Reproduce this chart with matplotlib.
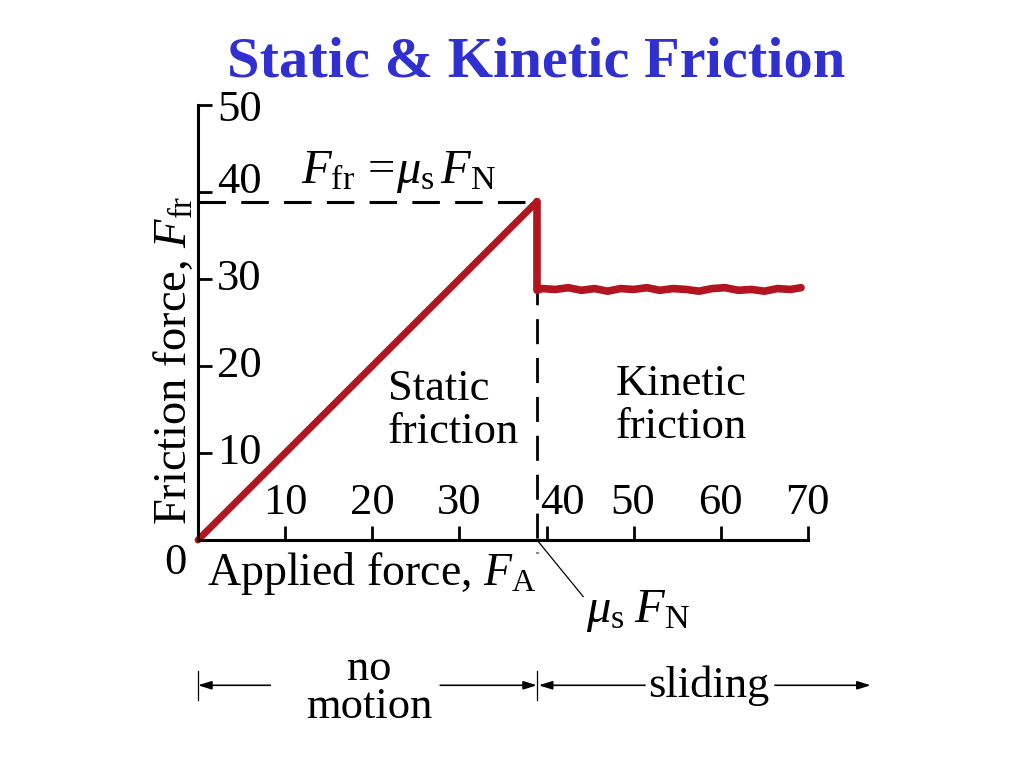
import matplotlib
matplotlib.use("Agg")
import matplotlib.pyplot as plt

plt.rcParams['font.family'] = ['Liberation Serif', 'DejaVu Serif']
plt.rcParams['mathtext.fontset'] = 'custom'
plt.rcParams['mathtext.rm'] = 'Liberation Serif'
plt.rcParams['mathtext.it'] = 'Liberation Serif:italic'

# data
static_x = [0, 38.9]
static_y = [0, 38.9]
kinetic_x = [38.9, 38.9, 39.5, 41, 42.5, 44, 45.5, 47, 48.5, 50, 51.5, 53, 54.5, 56,
             57.5, 59, 60.5, 62, 63.5, 65, 66.5, 68, 69.2]
kinetic_y = [38.9, 28.7, 28.9, 28.8, 29.0, 28.7, 28.9, 28.6, 28.9, 28.8, 29.0, 28.7,
             28.9, 28.8, 28.6, 28.9, 29.0, 28.7, 28.8, 28.6, 28.9, 28.8, 29.0]
y_ticks = [10, 20, 30, 40, 50]
y_label_pos = [10, 20, 30, 41.1, 49.4]
x_ticks = [10, 20, 30, 40, 50, 60, 70]
x_label_pos = [10, 20, 30, 41.8, 49.9, 59.9, 69.9]
peak = 38.9

fig = plt.figure(figsize=(10.24, 7.68), dpi=100)
ax = fig.add_axes([198 / 1024, 1 - 540 / 768, 610 / 1024, 435 / 768])
ax.set_xlim(0, 70)
ax.set_ylim(0, 50)
for s in ['top', 'right']:
    ax.spines[s].set_visible(False)
for s in ['left', 'bottom']:
    ax.spines[s].set_linewidth(2.2)
ax.set_xticks(x_ticks)
ax.set_yticks(y_ticks)
ax.tick_params(direction='in', length=10, width=2, labelleft=False, labelbottom=False)

fs = 32
for v, p in zip(y_ticks, y_label_pos):
    ax.text(2.2, p, str(v), fontsize=fs, ha='left', va='center')
for v, p in zip(x_ticks, x_label_pos):
    ax.text(p, 2.0, str(v), fontsize=fs, ha='center', va='bottom')
ax.text(-2.6, -2.7, "0", fontsize=fs, ha='center', va='center', clip_on=False)

red = '#b2151f'
ax.plot(static_x, static_y, color=red, lw=5, solid_capstyle='round', clip_on=False)
ax.plot(kinetic_x, kinetic_y, color=red, lw=5.5, solid_capstyle='round',
        solid_joinstyle='round', clip_on=False)

dash = (0, (9, 5))
ax.plot([0, peak], [peak, peak], color='black', lw=2.2, linestyle=dash, zorder=1)
ax.plot([peak, peak], [peak, -1.5], color='black', lw=2.0, linestyle=dash,
        zorder=1, clip_on=False)
ax.plot([peak, 44.2], [0, -6.5], color='black', lw=0.9, clip_on=False)

ax.text(23.0, 42.3, r"$F_{\rm fr}$$\,=\!\mu_{\rm s}\,F_{\rm N}$", fontsize=35,
        ha='center', va='center')
ax.text(21.8, 14.9, "Static\nfriction", fontsize=fs, ha='left', va='center',
        linespacing=1.1)
ax.text(47.9, 15.5, "Kinetic\nfriction", fontsize=fs, ha='left', va='center',
        linespacing=1.1)
ax.text(1.0, -3.8, r"Applied force, $F_{\rm A}$", fontsize=33, ha='left',
        va='center', clip_on=False)
ax.text(50.5, -8.2, r"$\mu_{\rm s}\;F_{\rm N}$", fontsize=35, ha='center',
        va='center', clip_on=False)
ax.text(-2.7, 20.6, r"Friction force, $F_{\rm fr}$", fontsize=33.5, rotation=90,
        ha='center', va='center', clip_on=False)

# bottom arrows
ya = -16.7
arr = dict(arrowstyle='-|>,head_length=0.8,head_width=0.25', color='black', lw=1.2,
           shrinkA=0, shrinkB=0)
for x0, x1 in [(8.3, 0), (27.8, peak), (51.3, peak + 0.2), (66.2, 77.2)]:
    ax.annotate("", xy=(x1, ya), xytext=(x0, ya), arrowprops=arr,
                annotation_clip=False)
for xb in [0, peak]:
    ax.plot([xb, xb], [ya - 1.7, ya + 1.7], color='black', lw=0.9, clip_on=False)
ax.text(19.6, ya - 0.3, "no\nmotion", fontsize=fs, ha='center', va='center',
        linespacing=0.95, clip_on=False)
ax.text(58.6, ya, "sliding", fontsize=fs, ha='center', va='center', clip_on=False)

fig.text(0.524, 0.919, "Static & Kinetic Friction", fontsize=42, fontweight='bold',
         color='#3030d0', ha='center', va='center')

fig.savefig("out.png", dpi=100)
